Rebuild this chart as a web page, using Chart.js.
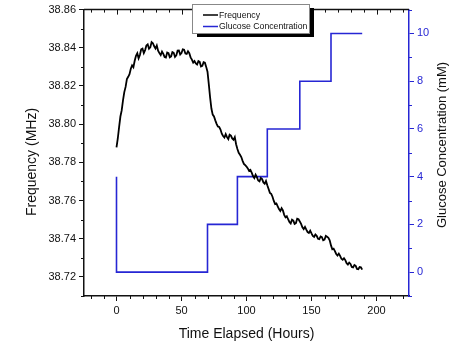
<!DOCTYPE html>
<html>
<head>
<meta charset="utf-8">
<script src="https://cdn.jsdelivr.net/npm/chart.js@4"></script>
<style>
html,body{margin:0;padding:0;background:#fff;}
#wrap{width:474px;height:346px;}
</style>
</head>
<body>
<div id="wrap"><canvas id="c" width="474" height="346"></canvas></div>
<script>
// ---- data ----
const freqTime = [0,1,2,3,4,5,6,7,8,9,10,11,12,13,14,15,16,17,18,19,20,21,22,23,24,25,26,27,28,29,30,31,32,33,34,35,36,37,38,39,40,41,42,43,44,45,46,47,48,49,50,51,52,53,54,55,56,57,58,59,60,61,62,63,64,65,66,67,68,69,70,71,72,73,74,75,76,77,78,79,80,81,82,83,84,85,86,87,88,89,90,91,92,93,94,95,96,97,98,99,100,101,102,103,104,105,106,107,108,109,110,111,112,113,114,115,116,117,118,119,120,121,122,123,124,125,126,127,128,129,130,131,132,133,134,135,136,137,138,139,140,141,142,143,144,145,146,147,148,149,150,151,152,153,154,155,156,157,158,159,160,161,162,163,164,165,166,167,168,169,170,171,172,173,174,175,176,177,178,179,180,181,182,183,184,185,186,187,188,189];
const freqMHz = [
38.7878,38.7925,38.7985,38.8040,38.8072,38.8125,38.8168,38.8195,38.8236,38.8248,
38.8262,38.8290,38.8308,38.8298,38.8332,38.8358,38.8371,38.8345,38.8362,38.8392,
38.8396,38.8372,38.8388,38.8412,38.8418,38.8395,38.8402,38.8430,38.8424,38.8408,
38.8396,38.8412,38.8385,38.8372,38.8362,38.8380,38.8368,38.8352,38.8349,38.8375,
38.8372,38.8350,38.8355,38.8378,38.8374,38.8352,38.8360,38.8385,38.8386,38.8365,
38.8372,38.8392,38.8390,38.8370,38.8368,38.8382,38.8372,38.8350,38.8338,38.8322,
38.8330,38.8318,38.8312,38.8330,38.8326,38.8302,38.8305,38.8325,38.8322,38.8300,
38.8275,38.8210,38.8140,38.8082,38.8050,38.8040,38.8020,38.8002,38.7988,38.7985,
38.7972,38.7950,38.7938,38.7930,38.7948,38.7932,38.7922,38.7945,38.7940,38.7925,
38.7918,38.7932,38.7895,38.7870,38.7850,38.7840,38.7828,38.7808,38.7792,38.7785,
38.7778,38.7768,38.7755,38.7760,38.7746,38.7728,38.7718,38.7735,38.7722,38.7705,
38.7700,38.7718,38.7712,38.7695,38.7688,38.7702,38.7680,38.7660,38.7640,38.7635,
38.7620,38.7598,38.7582,38.7585,38.7570,38.7555,38.7545,38.7560,38.7548,38.7525,
38.7512,38.7518,38.7502,38.7488,38.7480,38.7500,38.7495,38.7478,38.7482,38.7505,
38.7502,38.7490,38.7478,38.7460,38.7450,38.7462,38.7448,38.7435,38.7430,38.7442,
38.7428,38.7415,38.7410,38.7422,38.7415,38.7400,38.7398,38.7412,38.7408,38.7392,
38.7395,38.7415,38.7410,38.7405,38.7392,38.7365,38.7345,38.7348,38.7335,38.7320,
38.7312,38.7322,38.7310,38.7295,38.7290,38.7298,38.7288,38.7272,38.7265,38.7275,
38.7268,38.7252,38.7250,38.7262,38.7258,38.7242,38.7240,38.7252,38.7250,38.7238];
const glucTime = [0,0,70,70,93,93,116,116,141,141,165,165,189];
const glucMM   = [4,0,0,2,2,4,4,6,6,8,8,10,10];

const xTicks = [0,50,100,150,200];
const freqTicks = [38.72,38.74,38.76,38.78,38.80,38.82,38.84,38.86];
const glucTicks = [0,2,4,6,8,10];
const xMinor = [-20,-10,10,20,30,40,60,70,80,90,110,120,130,140,160,170,180,190,210,220];
const freqMinor = [38.71,38.73,38.75,38.77,38.79,38.81,38.83,38.85];
const glucMinor = [-1,1,3,5,7,9,11];

const seriesNames = ['Frequency','Glucose Concentration'];
const titles = {x:'Time Elapsed (Hours)', y:'Frequency (MHz)', y2:'Glucose Concentration (mM)'};

// ---- styling ----
const BLUE = '#2626d4';
const FONT = '"Liberation Sans", Arial, sans-serif';

const deco = {
  id: 'deco',
  afterDraw(chart) {
    const {ctx, chartArea: a} = chart;
    const x = chart.scales.x, y = chart.scales.y, y2 = chart.scales.y2;
    ctx.save();
    // top frame line
    ctx.strokeStyle = '#111';
    ctx.lineWidth = 1.5;
    ctx.beginPath(); ctx.moveTo(a.left, a.top); ctx.lineTo(a.right, a.top); ctx.stroke();
    ctx.lineWidth = 1;
    // top inward ticks (major + minor)
    ctx.beginPath();
    xTicks.concat(xMinor).forEach(v => {
      const px = Math.round(x.getPixelForValue(v)) + 0.5;
      const len = xTicks.includes(v) ? 5 : 3;
      ctx.moveTo(px, a.top); ctx.lineTo(px, a.top + len);
    });
    // bottom minor ticks (outward)
    xMinor.forEach(v => {
      const px = Math.round(x.getPixelForValue(v)) + 0.5;
      ctx.moveTo(px, a.bottom); ctx.lineTo(px, a.bottom + 3);
    });
    // left minor ticks (outward)
    freqMinor.forEach(v => {
      const py = Math.round(y.getPixelForValue(v)) + 0.5;
      ctx.moveTo(a.left, py); ctx.lineTo(a.left - 3, py);
    });
    ctx.stroke();
    // right minor ticks (outward, blue)
    ctx.strokeStyle = BLUE;
    ctx.beginPath();
    glucMinor.forEach(v => {
      const py = Math.round(y2.getPixelForValue(v)) + 0.5;
      ctx.moveTo(a.right, py); ctx.lineTo(a.right + 3, py);
    });
    ctx.stroke();

    // vertical axis titles (both read bottom-to-top)
    ctx.fillStyle = '#111';
    ctx.textAlign = 'center';
    ctx.textBaseline = 'middle';
    ctx.save();
    ctx.translate(32, 162); ctx.rotate(-Math.PI/2);
    ctx.font = '14px ' + FONT;
    ctx.fillText(titles.y, 0, 0);
    ctx.restore();
    ctx.save();
    ctx.translate(442, 145); ctx.rotate(-Math.PI/2);
    ctx.font = '13px ' + FONT;
    ctx.fillText(titles.y2, 0, 0);
    ctx.restore();

    // legend box with shadow
    const bx = 192, by = 4, bw = 117, bh = 29;
    ctx.fillStyle = '#000';
    ctx.fillRect(bx + 5, by + 4, bw, bh);
    ctx.fillStyle = '#fff';
    ctx.fillRect(bx, by, bw, bh);
    ctx.strokeStyle = '#888';
    ctx.lineWidth = 1;
    ctx.strokeRect(bx + 0.5, by + 0.5, bw, bh);
    ctx.font = '8.7px ' + FONT;
    ctx.textAlign = 'left';
    chart.data.datasets.forEach((ds, i) => {
      const ly = by + 11 + i * 11.5;
      ctx.strokeStyle = ds.borderColor;
      ctx.lineWidth = 1.5;
      ctx.beginPath(); ctx.moveTo(bx + 11, ly); ctx.lineTo(bx + 26, ly); ctx.stroke();
      ctx.fillStyle = '#111';
      ctx.fillText(ds.label, bx + 27, ly + 0.5);
    });
    ctx.restore();
  }
};

const pts = (xs, ys) => xs.map((t, i) => ({x: t, y: ys[i]}));

new Chart(document.getElementById('c'), {
  type: 'line',
  data: {
    datasets: [
      {label: seriesNames[0], data: pts(freqTime, freqMHz), yAxisID: 'y', borderColor: '#000', borderWidth: 1.8, pointRadius: 0, tension: 0, fill: false},
      {label: seriesNames[1], data: pts(glucTime, glucMM), yAxisID: 'y2', borderColor: BLUE, borderWidth: 1.6, pointRadius: 0, tension: 0, fill: false}
    ]
  },
  options: {
    responsive: false,
    animation: false,
    devicePixelRatio: 1,
    layout: {padding: {top: 8, left: 0, right: 0, bottom: 0}},
    plugins: {legend: {display: false}, tooltip: {enabled: false}},
    scales: {
      x: {
        type: 'linear', position: 'bottom', min: -25, max: 225,
        afterBuildTicks: s => { s.ticks = xTicks.map(v => ({value: v})); },
        afterFit: s => { s.height = 50; },
        ticks: {color: '#111', font: {size: 11, family: FONT}, padding: 3, maxRotation: 0},
        grid: {drawOnChartArea: false, drawTicks: true, tickLength: 5, color: '#111', tickWidth: 1},
        border: {display: true, color: '#111', width: 1.5},
        title: {display: true, text: titles.x, color: '#111', font: {size: 14, family: FONT}, padding: {top: 0, bottom: 3}}
      },
      y: {
        type: 'linear', position: 'left', min: 38.71, max: 38.86,
        afterBuildTicks: s => { s.ticks = freqTicks.map(v => ({value: v})); },
        afterFit: s => { s.width = 84; },
        ticks: {color: '#111', font: {size: 11, family: FONT}, padding: 3, callback: v => Number(v).toFixed(2)},
        grid: {drawOnChartArea: false, drawTicks: true, tickLength: 5, color: '#111', tickWidth: 1},
        border: {display: true, color: '#111', width: 1.5},
        title: {display: false}
      },
      y2: {
        type: 'linear', position: 'right', min: -1, max: 11,
        afterBuildTicks: s => { s.ticks = glucTicks.map(v => ({value: v})); },
        afterFit: s => { s.width = 65; },
        ticks: {color: BLUE, font: {size: 11, family: FONT}, padding: 3},
        grid: {drawOnChartArea: false, drawTicks: true, tickLength: 5, color: BLUE, tickWidth: 1},
        border: {display: true, color: BLUE, width: 1.5},
        title: {display: false}
      }
    }
  },
  plugins: [deco]
});
</script>
</body>
</html>
